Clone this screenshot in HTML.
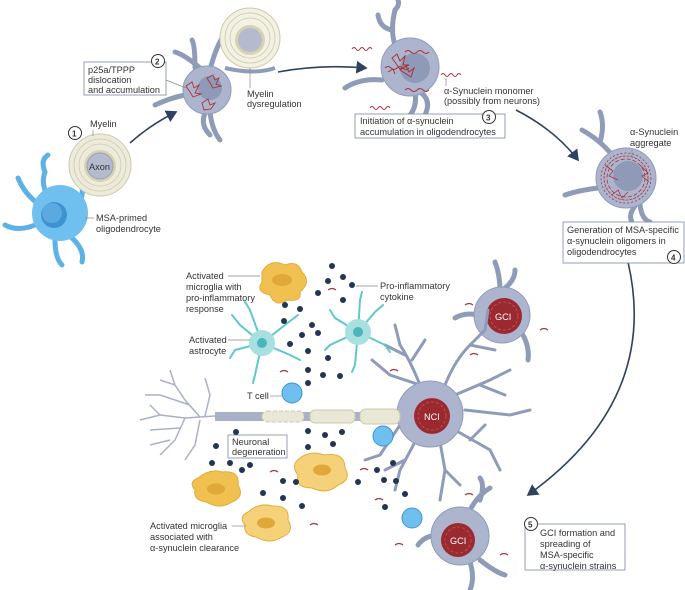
<!DOCTYPE html>
<html><head><meta charset="utf-8"><style>
html,body{margin:0;padding:0;background:#fff;}
svg{display:block;font-family:"Liberation Sans",sans-serif;}
text{font-size:9.2px;fill:#333;}
</style></head><body>
<svg width="685" height="590" viewBox="0 0 685 590" xmlns="http://www.w3.org/2000/svg">
<defs>
<marker id="ar" markerWidth="8" markerHeight="8" refX="6" refY="4" orient="auto"><path d="M0,0 L7,4 L0,8 z" fill="#2e4160"/></marker>
</defs>

<!-- arrows -->
<g fill="none" stroke="#2e4160" stroke-width="1.6">
<path d="M130,143 Q150,125 176,112" marker-end="url(#ar)"/>
<path d="M278,72 Q320,64 366,68" marker-end="url(#ar)"/>
<path d="M516,110 Q555,130 578,160" marker-end="url(#ar)"/>
<path d="M628,262 Q660,400 528,495" marker-end="url(#ar)"/>
</g>

<!-- Cell 1 blue oligodendrocyte -->
<g stroke="#5cb2e6" stroke-width="5" fill="none" stroke-linecap="round">
<path d="M50,200 Q40,185 45,172 Q40,160 48,155"/>
<path d="M40,205 Q25,195 18,178"/>
<path d="M35,225 Q18,232 5,225"/>
<path d="M55,240 Q55,258 62,265"/>
<path d="M72,238 Q85,250 82,262"/>
<path d="M78,205 Q88,190 75,165 Q72,150 90,140"/>
</g>
<circle cx="100" cy="165" r="31" fill="#ecebdc" stroke="#cfc9a8" stroke-width="1"/>
<circle cx="100" cy="165" r="26" fill="none" stroke="#cfc9a8" stroke-width="0.8"/>
<circle cx="100" cy="165" r="21" fill="none" stroke="#cfc9a8" stroke-width="0.8"/>
<circle cx="100" cy="166" r="16" fill="#d6d2b0"/>
<circle cx="100" cy="166" r="13" fill="#b4bbcf" stroke="#98a1ba"/>
<text x="89" y="170">Axon</text>
<circle cx="60" cy="213" r="28" fill="#6fc0ee"/>
<circle cx="54" cy="215" r="13" fill="#3e93d1"/>
<circle cx="52" cy="213" r="10" fill="#5aa9e0"/>
<text x="90" y="127">Myelin</text>
<line x1="93" y1="130" x2="93" y2="136" stroke="#888" stroke-width="0.7"/>
<circle cx="75" cy="133" r="6.5" fill="#fff" stroke="#333"/><text x="72" y="136.5" style="font-weight:bold;font-size:8px">1</text>
<line x1="85" y1="218" x2="94" y2="218" stroke="#888" stroke-width="0.7"/>
<text x="96" y="221">MSA-primed</text><text x="96" y="232">oligodendrocyte</text>

<!-- Cell 2 -->
<g stroke="#8f9cb8" stroke-width="5" fill="none" stroke-linecap="round">
<path d="M200,68 Q185,55 175,52 M195,68 Q195,45 192,40 M210,70 Q215,50 222,38"/>
<path d="M185,95 Q170,98 155,105"/>
<path d="M210,112 Q212,130 220,140 M205,113 Q200,125 210,135"/>
</g>
<circle cx="250" cy="38" r="30" fill="#f2f1e4" stroke="#cfc9a8"/>
<circle cx="250" cy="38" r="25" fill="none" stroke="#cfc9a8" stroke-width="0.8"/>
<circle cx="250" cy="38" r="20" fill="none" stroke="#cfc9a8" stroke-width="0.8"/>
<circle cx="250" cy="40" r="15" fill="#d6d2b0"/>
<circle cx="250" cy="40" r="12" fill="#b4bbcf"/>
<path d="M225,68 Q255,75 275,68" stroke="#8f9cb8" stroke-width="4" fill="none"/>
<circle cx="207" cy="90" r="24" fill="#adb5ce" stroke="#8f9cb8"/>
<circle cx="210" cy="88" r="12" fill="#8f9ab8"/>
<g stroke="#a8343a" stroke-width="0.9" fill="none">
<path d="M186,86 l6,-4 l2,6 l5,-3 l-4,8 l6,1 l-8,3 l-3,-5z"/>
<path d="M207,78 l6,-3 l2,5 l4,-2 l-3,6 l5,2 l-8,2z"/>
<path d="M202,103 l6,-4 l2,6 l5,-2 l-4,6 l-7,1z"/>
</g>
<rect x="84" y="62" width="82" height="33" fill="#fff" stroke="#7b8aa5" stroke-width="0.8"/>
<line x1="166" y1="80" x2="186" y2="88" stroke="#888" stroke-width="0.7"/>
<text x="88" y="73">p25a/TPPP</text><text x="88" y="83">dislocation</text><text x="88" y="93">and accumulation</text>
<circle cx="158" cy="61" r="6.5" fill="#fff" stroke="#333"/><text x="155" y="64.5" style="font-weight:bold;font-size:8px">2</text>
<line x1="250" y1="68" x2="250" y2="88" stroke="#888" stroke-width="0.7"/>
<text x="247" y="97">Myelin</text><text x="247" y="107">dysregulation</text>

<!-- Cell 3 -->
<g stroke="#8f9cb8" stroke-width="5" fill="none" stroke-linecap="round">
<path d="M395,45 Q390,30 395,10 Q400,5 398,0 M392,30 Q380,28 378,15"/>
<path d="M382,80 Q360,78 345,88"/>
<path d="M415,92 Q418,110 405,120 M420,92 Q432,100 425,115"/>
</g>
<circle cx="410" cy="67" r="29" fill="#adb5ce" stroke="#8f9cb8"/>
<circle cx="415" cy="68" r="15" fill="#8f9ab8"/>
<g stroke="#a8343a" stroke-width="1" fill="none">
<path d="M392,58 l5,-4 l3,7 l5,-5 l-2,9 l6,0 l-9,4z"/>
<path d="M400,70 l6,-4 l3,6 l5,-4 l-3,9z"/>
<path d="M388,72 l5,-3 l2,5"/>
<path d="M405,52 q3,-3 6,0 t6,0 t6,0 t6,0"/>
<path d="M385,68 q3,-3 6,0 t6,0 t6,0 t6,0"/>
<path d="M405,90 q3,-3 6,0 t6,0 t6,0 t6,0"/>
<path d="M352,49 q2,-3 4,0 t4,0 t4,0 t4,0 t4,0"/>
<path d="M441,75 q2,-3 4,0 t4,0 t4,0 t4,0 t4,0"/>
<path d="M370,108 q2,-3 4,0 t4,0 t4,0 t4,0 t4,0"/>
</g>
<line x1="446" y1="78" x2="446" y2="86" stroke="#888" stroke-width="0.7"/>
<text x="444" y="94">α-Synuclein monomer</text><text x="444" y="104">(possibly from neurons)</text>
<rect x="355" y="114" width="150" height="24" fill="#fff" stroke="#7b8aa5" stroke-width="0.8"/>
<text x="360" y="124">Initiation of α-synuclein</text><text x="360" y="135">accumulation in oligodendrocytes</text>
<circle cx="489" cy="117" r="6.5" fill="#fff" stroke="#333"/><text x="486" y="120.5" style="font-weight:bold;font-size:8px">3</text>

<!-- Cell 4 -->
<g stroke="#8f9cb8" stroke-width="5" fill="none" stroke-linecap="round">
<path d="M612,155 Q600,140 582,130 M600,142 Q605,125 600,112"/>
<path d="M598,188 Q580,190 565,195"/>
<path d="M640,205 Q642,220 650,222 M635,206 Q628,215 632,222"/>
</g>
<circle cx="626" cy="178" r="30" fill="#adb5ce" stroke="#8f9cb8"/>
<circle cx="628" cy="176" r="15" fill="#8f9ab8"/>
<g stroke="#a8343a" stroke-width="0.8" fill="none">
<circle cx="626" cy="178" r="22" stroke-dasharray="3 1"/>
<circle cx="626" cy="178" r="19" stroke-dasharray="4 2"/>
<circle cx="626" cy="178" r="25" stroke-dasharray="2 2"/>
<path d="M605,165 l8,6 l-4,5 l9,4 M640,165 l8,8 l-6,3 l7,6 M612,195 l6,-5 l4,8 l6,-6"/>
</g>
<line x1="632" y1="150" x2="632" y2="158" stroke="#888" stroke-width="0.7"/>
<text x="630" y="135">α-Synuclein</text><text x="630" y="146">aggregate</text>
<rect x="563" y="222" width="121" height="41" fill="#fff" stroke="#7b8aa5" stroke-width="0.8"/>
<text x="567" y="233">Generation of MSA-specific</text><text x="567" y="244">α-synuclein oligomers in</text><text x="567" y="255">oligodendrocytes</text>
<circle cx="674" cy="257" r="6.5" fill="#fff" stroke="#333"/><text x="671" y="260.5" style="font-weight:bold;font-size:8px">4</text>

<!-- GCI upper -->
<g stroke="#8f9cb8" stroke-width="5" fill="none" stroke-linecap="round">
<path d="M500,290 Q500,275 495,262 M505,288 Q515,280 515,270"/>
<path d="M478,315 Q465,312 455,318"/>
<path d="M520,330 Q530,345 528,360"/>
</g>
<circle cx="502" cy="315" r="28" fill="#adb5ce" stroke="#8f9cb8"/>
<circle cx="504" cy="316" r="18" fill="#9a2a30"/>
<circle cx="504" cy="316" r="14" fill="none" stroke="#c9545a" stroke-width="0.8" stroke-dasharray="3 2"/>
<text x="495" y="320" style="fill:#fff">GCI</text>

<!-- NCI neuron -->
<g stroke="#8f9cb8" stroke-width="3" fill="none" stroke-linecap="round">
<path d="M420,385 Q410,360 400,345 L395,325 M405,355 L385,345 M412,360 L425,340"/>
<path d="M445,385 Q455,360 470,345 L485,330 L488,310 M470,345 L495,350"/>
<path d="M455,395 L490,380 L510,370 M480,385 L505,395"/>
<path d="M455,430 L490,450 L500,470 M470,440 L485,425"/>
<path d="M440,442 L445,470 L440,500 M445,470 L460,485"/>
<path d="M415,442 L400,470 L395,490 M405,460 L385,470"/>
<path d="M400,425 L380,455 L365,460"/>
<path d="M465,410 L510,415 L530,410"/>
<path d="M420,385 L390,375 L372,360"/>
</g>
<circle cx="430" cy="414" r="33" fill="#adb5ce" stroke="#8f9cb8"/>
<circle cx="432" cy="416" r="18" fill="#9a2a30"/>
<circle cx="432" cy="416" r="14" fill="none" stroke="#c9545a" stroke-width="0.8" stroke-dasharray="3 2"/>
<text x="424" y="420" style="fill:#fff">NCI</text>
<!-- axon -->
<rect x="215" y="412" width="185" height="9" fill="#a8b1c7"/>
<rect x="360" y="409" width="40" height="15" rx="6" fill="#e9e8d6" stroke="#cfc9a8"/>
<rect x="310" y="410" width="45" height="13" rx="5" fill="#e9e8d6" stroke="#cfc9a8"/>
<rect x="262" y="411" width="42" height="11" rx="5" fill="#e9e8d6" stroke="#cfc9a8" stroke-dasharray="4 2"/>
<g stroke="#a8b1c7" stroke-width="1.5" fill="none">
<path d="M215,416 L185,418 L160,415 L140,420 M200,417 L185,400 L175,385 L170,370 M190,405 L160,395 L145,395 M185,418 L175,440 L160,455 M170,440 L150,445 M200,420 L195,445 L185,460 M160,415 L150,405 M175,385 L160,380 M205,416 L210,395 L205,378 M180,428 L150,430"/>
</g>
<rect x="228" y="435" width="59" height="23" fill="#fff" stroke="#7b8aa5" stroke-width="0.8"/>
<text x="232" y="445">Neuronal</text><text x="232" y="455">degeneration</text>

<!-- microglia -->
<g fill="#f0c050" stroke="#e0ad3a" stroke-width="1">
<path d="M262,272 Q270,258 285,265 Q298,260 302,272 Q312,282 300,292 Q302,302 288,300 Q275,308 270,295 Q255,292 262,282z"/>
<path d="M300,458 Q310,450 325,455 Q345,452 345,468 Q352,480 338,485 Q328,495 312,488 Q295,488 298,475 Q290,465 300,458z" fill="#f5d27a"/>
<path d="M198,478 Q210,468 222,472 Q240,470 238,485 Q245,497 232,502 Q220,510 206,502 Q193,500 195,490 Q188,482 198,478z"/>
<path d="M248,512 Q260,502 272,506 Q290,505 288,520 Q295,532 282,537 Q270,545 256,537 Q243,535 245,525 Q238,517 248,512z" fill="#f5d27a"/>
</g>
<g fill="#e0a838"><ellipse cx="282" cy="280" rx="10" ry="6"/><ellipse cx="322" cy="470" rx="9" ry="5.5"/><ellipse cx="216" cy="489" rx="9" ry="5.5"/><ellipse cx="266" cy="523" rx="9" ry="5.5"/></g>

<!-- astrocytes -->
<g stroke="#5ec8cc" stroke-width="2" fill="none" stroke-linecap="round">
<path d="M262,343 L240,325 L232,315 M262,343 L285,325 L298,315 M262,343 L290,355 L300,360 M262,343 L255,375 L253,383 M262,343 L235,350 L230,358 M262,343 L250,310 L245,302"/>
<path d="M358,332 L335,318 L330,310 M358,332 L375,312 L383,305 M358,332 L385,345 L390,352 M358,332 L355,365 L352,372 M358,332 L330,345 L325,350 M358,332 L360,300 L362,292"/>
</g>
<circle cx="262" cy="343" r="13" fill="#a8e0e2"/><circle cx="262" cy="343" r="5" fill="#4ab5ba"/>
<circle cx="358" cy="332" r="13" fill="#a8e0e2"/><circle cx="358" cy="332" r="5" fill="#4ab5ba"/>

<!-- T cells -->
<g fill="#6fc0ee" stroke="#3e93d1"><circle cx="292" cy="393" r="10"/><circle cx="383" cy="436" r="10"/><circle cx="412" cy="518" r="10"/></g>

<!-- dots -->
<g fill="#243552">
<circle cx="332" cy="266" r="3"/><circle cx="343" cy="277" r="3"/><circle cx="328" cy="281" r="3"/><circle cx="352" cy="285" r="3"/><circle cx="318" cy="293" r="3"/><circle cx="343" cy="300" r="3"/><circle cx="285" cy="305" r="3"/><circle cx="300" cy="309" r="3"/><circle cx="284" cy="321" r="3"/><circle cx="312" cy="325" r="3"/><circle cx="302" cy="335" r="3"/><circle cx="318" cy="333" r="3"/><circle cx="290" cy="344" r="3"/><circle cx="308" cy="351" r="3"/><circle cx="328" cy="358" r="3"/><circle cx="308" cy="370" r="3"/><circle cx="323" cy="375" r="3"/><circle cx="340" cy="376" r="3"/><circle cx="308" cy="383" r="3"/>
<circle cx="236" cy="432" r="3"/><circle cx="216" cy="446" r="3"/><circle cx="230" cy="463" r="3"/><circle cx="212" cy="463" r="3"/><circle cx="250" cy="465" r="3"/><circle cx="242" cy="470" r="3"/><circle cx="308" cy="431" r="3"/><circle cx="325" cy="435" r="3"/><circle cx="342" cy="432" r="3"/><circle cx="308" cy="447" r="3"/><circle cx="333" cy="444" r="3"/><circle cx="283" cy="481" r="3"/><circle cx="296" cy="482" r="3"/><circle cx="263" cy="493" r="3"/><circle cx="283" cy="498" r="3"/><circle cx="302" cy="506" r="3"/><circle cx="358" cy="482" r="3"/><circle cx="377" cy="470" r="3"/><circle cx="384" cy="480" r="3"/><circle cx="393" cy="463" r="3"/><circle cx="396" cy="481" r="3"/><circle cx="405" cy="494" r="3"/><circle cx="385" cy="507" r="3"/>
</g>
<!-- red fibrils -->
<g stroke="#a8343a" stroke-width="1.2" fill="none">
<path d="M328,290 q4,-3 8,0"/><path d="M280,372 q4,-3 8,0"/><path d="M465,305 q4,-3 8,0"/><path d="M540,330 q4,-3 8,0"/><path d="M390,371 q4,-3 8,0"/><path d="M360,470 q4,-3 8,0"/><path d="M270,472 q4,-3 8,0"/><path d="M310,525 q4,-3 8,0"/><path d="M375,500 q4,-3 8,0"/><path d="M465,495 q4,-3 8,0"/><path d="M480,540 q4,-3 8,0"/><path d="M395,545 q4,-3 8,0"/><path d="M470,355 q4,-3 8,0"/><path d="M500,555 q4,-3 8,0"/>
</g>

<!-- GCI lower -->
<g stroke="#8f9cb8" stroke-width="5" fill="none" stroke-linecap="round">
<path d="M470,510 Q478,495 490,488 M480,500 Q485,485 480,478"/>
<path d="M440,535 Q425,535 418,545"/>
<path d="M470,562 Q475,578 470,590 M480,560 Q495,572 505,575"/>
</g>
<circle cx="460" cy="536" r="29" fill="#adb5ce" stroke="#8f9cb8"/>
<circle cx="458" cy="540" r="17" fill="#9a2a30"/>
<circle cx="458" cy="540" r="13" fill="none" stroke="#c9545a" stroke-width="0.8" stroke-dasharray="3 2"/>
<text x="450" y="544" style="fill:#fff">GCI</text>
<rect x="525" y="524" width="100" height="46" fill="#fff" stroke="#7b8aa5" stroke-width="0.8"/>
<circle cx="531" cy="524" r="6.5" fill="#fff" stroke="#333"/><text x="528" y="527.5" style="font-weight:bold;font-size:8px">5</text>
<text x="540" y="536">GCI formation and</text><text x="540" y="547">spreading of</text><text x="540" y="558">MSA-specific</text><text x="540" y="569">α-synuclein strains</text>

<!-- labels bottom area -->
<g stroke="#888" stroke-width="0.7">
<line x1="228" y1="276" x2="260" y2="276"/><line x1="228" y1="340" x2="250" y2="340"/><line x1="356" y1="286" x2="378" y2="286"/><line x1="270" y1="396" x2="282" y2="396"/><line x1="232" y1="526" x2="246" y2="526"/>
</g>
<text x="186" y="279">Activated</text><text x="186" y="290">microglia with</text><text x="186" y="301">pro-inflammatory</text><text x="186" y="312">response</text>
<text x="380" y="289">Pro-inflammatory</text><text x="380" y="300">cytokine</text>
<text x="189" y="343">Activated</text><text x="189" y="354">astrocyte</text>
<text x="247" y="399">T cell</text>
<text x="150" y="529">Activated microglia</text><text x="150" y="540">associated with</text><text x="150" y="551">α-synuclein clearance</text>
</svg>
</body></html>
